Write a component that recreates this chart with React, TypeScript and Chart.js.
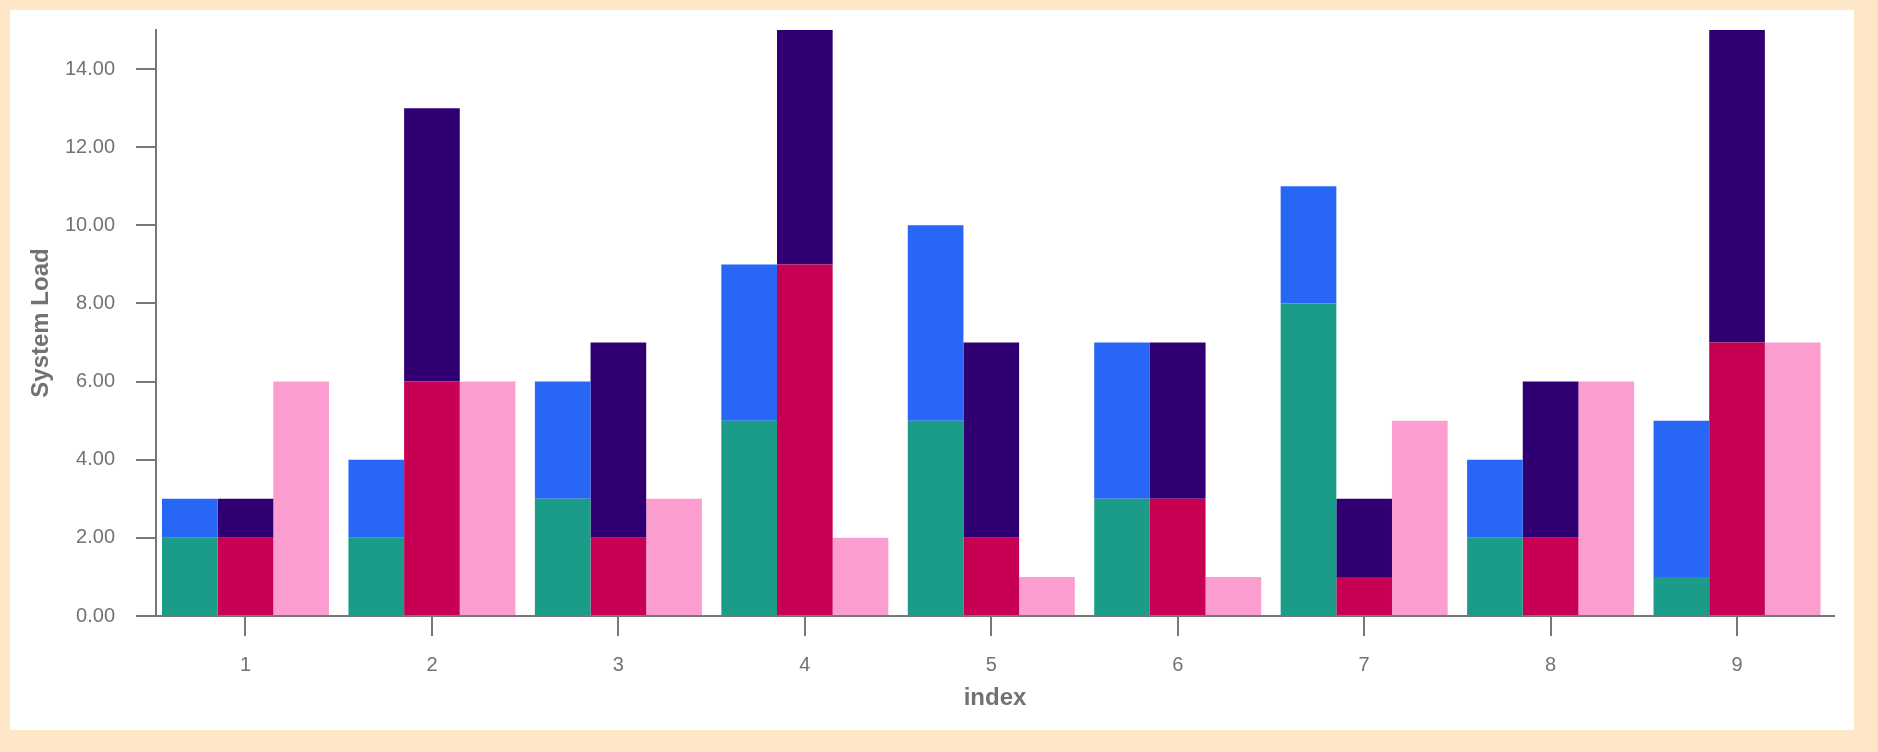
import { useEffect, useRef } from "react";
import { Chart, registerables } from "chart.js";

Chart.register(...registerables);

const categories = [1, 2, 3, 4, 5, 6, 7, 8, 9];
const tealValues = [2, 2, 3, 5, 5, 3, 8, 2, 1];
const blueValues = [1, 2, 3, 4, 5, 4, 3, 2, 4];
const crimsonValues = [2, 6, 2, 9, 2, 3, 1, 2, 7];
const purpleValues = [1, 7, 5, 7, 5, 4, 2, 4, 9];
const pinkValues = [6, 6, 3, 2, 1, 1, 5, 6, 7];
const yTicks = [0, 2, 4, 6, 8, 10, 12, 14];

const GRAY = "#777777";
const TEXT = "#727272";
const FONT = "'Liberation Sans', Arial, Helvetica, sans-serif";

export default function App() {
  const ref = useRef<HTMLCanvasElement>(null);

  useEffect(() => {
    document.body.style.margin = "0";
    const canvas = ref.current;
    if (!canvas) return;
    const mk = (vals: number[]) => vals.map((y, i) => ({ x: categories[i], y }));
    const chart = new Chart(canvas, {
      type: "bar",
      data: {
        datasets: [
          { label: "a1", data: mk(tealValues), backgroundColor: "#1B9C88", stack: "a" },
          { label: "a2", data: mk(blueValues), backgroundColor: "#2866F5", stack: "a" },
          { label: "b1", data: mk(crimsonValues), backgroundColor: "#C70053", stack: "b" },
          { label: "b2", data: mk(purpleValues), backgroundColor: "#300073", stack: "b" },
          { label: "c1", data: mk(pinkValues), backgroundColor: "#FC9DCF", stack: "c" },
        ],
      },
      options: {
        animation: false,
        responsive: false,
        maintainAspectRatio: false,
        devicePixelRatio: 1,
        layout: { padding: { top: 20, right: 20, left: 0, bottom: 0 } },
        plugins: { legend: { display: false }, tooltip: { enabled: false } },
        datasets: {
          bar: { categoryPercentage: 0.8957, barPercentage: 1, borderWidth: 0 },
        },
        scales: {
          x: {
            type: "linear",
            min: 0.52,
            max: 9.52,
            offset: false,
            afterBuildTicks: (s: any) => {
              s.ticks = categories.map((v) => ({ value: v }));
            },
            afterFit: (s: any) => {
              s.height = 114;
              s.paddingLeft = 0;
              s.paddingRight = 0;
            },
            grid: {
              display: true,
              offset: false,
              drawOnChartArea: false,
              drawTicks: true,
              tickLength: 20,
              color: GRAY,
              lineWidth: 2,
            },
            border: { display: true, color: GRAY, width: 2 },
            ticks: {
              padding: 17,
              color: TEXT,
              font: { family: FONT, size: 20 },
              callback: (v: any) => String(v),
            },
            title: {
              display: true,
              text: "index",
              color: TEXT,
              font: { family: FONT, size: 24, weight: "bold" },
              padding: { top: 0, bottom: 17 },
            },
          },
          y: {
            type: "linear",
            stacked: true,
            min: 0,
            max: 15,
            afterBuildTicks: (s: any) => {
              s.ticks = yTicks.map((v) => ({ value: v }));
            },
            afterFit: (s: any) => {
              s.width = 146;
              s.paddingTop = 0;
              s.paddingBottom = 0;
            },
            grid: {
              display: true,
              drawOnChartArea: false,
              drawTicks: true,
              tickLength: 20,
              color: GRAY,
              lineWidth: 2,
            },
            border: { display: true, color: GRAY, width: 2 },
            ticks: {
              padding: 21,
              color: TEXT,
              font: { family: FONT, size: 20 },
              callback: (v: any) => Number(v).toFixed(2),
            },
            title: {
              display: true,
              text: "System Load",
              color: TEXT,
              font: { family: FONT, size: 24, weight: "bold" },
              padding: { top: 16.6, bottom: 0 },
            },
          },
        },
      },
    } as any);
    return () => chart.destroy();
  }, []);

  return (
    <div
      style={{
        position: "relative",
        width: 1878,
        height: 752,
        background: "#FEE7C6",
        overflow: "hidden",
      }}
    >
      <canvas
        ref={ref}
        width={1844}
        height={720}
        style={{
          position: "absolute",
          left: 10,
          top: 10,
          width: 1844,
          height: 720,
          background: "#ffffff",
        }}
      />
    </div>
  );
}
